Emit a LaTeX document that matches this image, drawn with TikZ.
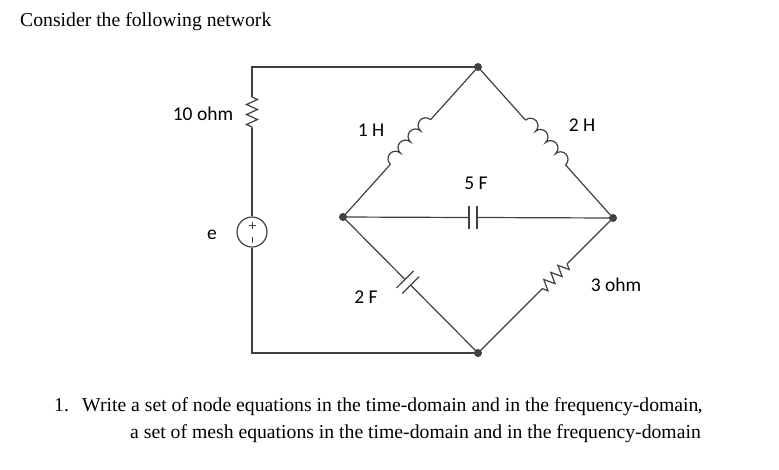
\documentclass[tikz,border=0pt]{standalone}
\usepackage{fontspec}
\setmainfont{Liberation Serif}
\newfontfamily\lbl{Carlito}
\usetikzlibrary{calc,decorations.pathmorphing}
\definecolor{wire}{HTML}{404040}
\tikzset{
  wr/.style={draw=wire,line width=1.2pt},
  dotnode/.style={circle,fill=wire,inner sep=0pt,minimum size=8pt},
  lab/.style={font=\lbl\fontsize{19.5}{22}\selectfont,inner sep=0pt},
  txt/.style={font=\fontsize{19.7}{23}\selectfont,inner sep=0pt,anchor=base west},
  zz/.style={decorate,decoration={zigzag,segment length=10pt,amplitude=5.5pt}}
}
\begin{document}
\begin{tikzpicture}[x=1pt,y=1pt]
\useasboundingbox (0,0) rectangle (779,-469);
\node[dotnode] (T) at (478,-67) {};
\node[dotnode] (L) at (343,-217) {};
\node[dotnode] (R) at (613,-218) {};
\node[dotnode] (B) at (478,-353) {};
\coordinate (c1) at (252,-67);
\coordinate (c2) at (252,-353);
\coordinate (r1) at (252,-97);
\coordinate (r2) at (252,-128);
\node[circle,wr,minimum size=30pt,inner sep=0pt] (E) at (252,-232) {};
% left branch
\draw[wr] (T.center) -- (c1) -- (r1);
\draw[wr,zz] (r1) -- (r2);
\draw[wr] (r2) -- (E.north);
\draw[wr] (E.south) -- (c2) -- (B.center);
\draw[wire,line width=1pt] ($(E.center)+(0,7)$) +(-3.5,0) -- +(3.5,0) +(0,-3.5) -- +(0,3.5);
\draw[wire,line width=1pt] ($(E.center)+(0,-11)$) -- +(0,6);
% 1H
\coordinate (m1) at ($(L.center)!0.5!(T.center)$);
\coordinate (a1) at ($(m1)!30pt!(L.center)$);
\coordinate (b1) at ($(m1)!30pt!(T.center)$);
\draw[wr] (L.center) -- (a1);
\draw[wr] (b1) -- (T.center);
\begin{scope}[shift={(a1)},rotate=48.0]
\draw[wr] (0,0) arc(180:0:7.5) arc(180:0:7.5) arc(180:0:7.5) arc(180:0:7.5);
\end{scope}
% 2H
\coordinate (m2) at ($(T.center)!0.5!(R.center)$);
\coordinate (a2) at ($(m2)!30pt!(T.center)$);
\coordinate (b2) at ($(m2)!30pt!(R.center)$);
\draw[wr] (T.center) -- (a2);
\draw[wr] (b2) -- (R.center);
\begin{scope}[shift={(a2)},rotate=-48.2]
\draw[wr] (0,0) arc(180:0:7.5) arc(180:0:7.5) arc(180:0:7.5) arc(180:0:7.5);
\end{scope}
% 5F
\coordinate (p1) at (469,-217.5);
\coordinate (p2) at (477,-217.5);
\draw[wr] (L.center) -- (p1) (p2) -- (R.center);
\draw[wr] (469,-206) -- (469,-229) (477,-206) -- (477,-229);
% 2F
\coordinate (m3) at ($(L.center)!0.48!(B.center)$);
\coordinate (a3) at ($(m3)!4pt!(L.center)$);
\coordinate (b3) at ($(m3)!4pt!(B.center)$);
\draw[wr] (L.center) -- (a3) (b3) -- (B.center);
\draw[wr] ($(a3)!12pt!90:(L.center)$) -- ($(a3)!12pt!-90:(L.center)$);
\draw[wr] ($(b3)!12pt!90:(B.center)$) -- ($(b3)!12pt!-90:(B.center)$);
% 3ohm
\coordinate (a4) at ($(R.center)!0.34!(B.center)$);
\coordinate (b4) at ($(R.center)!0.54!(B.center)$);
\draw[wr] (R.center) -- (a4) (b4) -- (B.center);
\draw[wr,zz] (a4) -- (b4);
% labels
\node[lab] (l1) at (203,-114) {10 ohm};
\node[lab] (l2) at (371,-130) {1 H};
\node[lab] (l3) at (582,-125) {2 H};
\node[lab] (l4) at (476,-183) {5 F};
\node[lab] (l5) at (212,-235) {e};
\node[lab] (l6) at (366,-297) {2 F};
\node[lab] (l7) at (616,-285) {3 ohm};
\node[txt] (t0) at (20,-26) {Consider the following network};
\node[txt] (t1) at (54,-411) {1.};
\node[txt] (t2) at (82,-411) {Write a set of node equations in the time-domain and in the frequency-domain\textbf{\Large,}};
\node[txt] (t3) at (130,-438) {a set of mesh equations in the time-domain and in the frequency-domain};
\end{tikzpicture}
\end{document}
